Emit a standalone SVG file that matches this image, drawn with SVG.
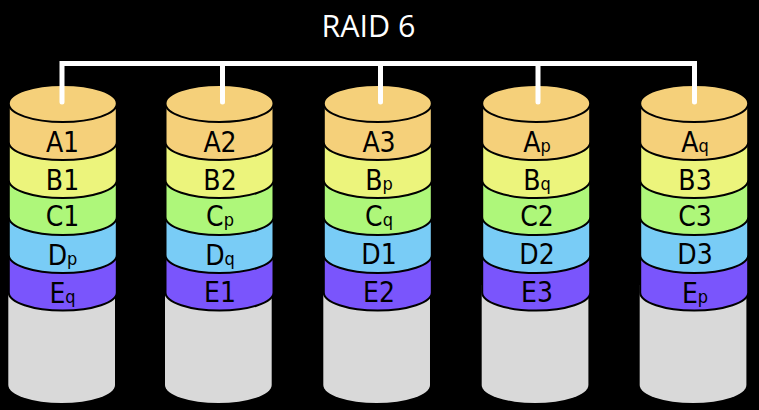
<svg xmlns="http://www.w3.org/2000/svg" width="759" height="410" viewBox="0 0 759 410">
<defs>
<style>
.s{stroke:#000;stroke-width:2}
.t{font-family:"DejaVu Sans",sans-serif;font-stretch:condensed;font-size:28px;fill:#000;text-anchor:middle}
.u{font-size:18px}
.bus{fill:none;stroke:#fff;stroke-width:5;stroke-linecap:round;stroke-linejoin:miter}
.a{fill:#f5d07a}.b{fill:#ecf47c}.c{fill:#aef77a}.d{fill:#79ccf6}.e{fill:#7a55fc}.g{fill:#d9d9d9}
</style>
<g id="cyl">
<path class="g" d="M0 285V385A53.350 18 0 0 0 106.700 385V285Z"/>
<path class="e s" d="M0.500 255V292.500A54 18 0 0 0 108.500 292.500V255Z"/>
<path class="d s" d="M0.500 217V255A54 18 0 0 0 108.500 255V217Z"/>
<path class="c s" d="M0.500 180V217A54 18 0 0 0 108.500 217V180Z"/>
<path class="b s" d="M0.500 142V180A54 18 0 0 0 108.500 180V142Z"/>
<path class="a s" d="M0.500 103.500V142A54 18 0 0 0 108.500 142V103.500Z"/>
<ellipse class="a s" cx="54.500" cy="103.500" rx="54" ry="18.500"/>
</g>
</defs>
<rect width="759" height="410" fill="#000"/>
<text x="368.500" y="36.700" font-family="'Open Sans',sans-serif" font-size="30.500" fill="#fff" text-anchor="middle">RAID 6</text>
<g id="disk1"><use href="#cyl" x="8.300"/>
<text class="t" x="62.500" y="151.500">A1</text><text class="t" x="62.500" y="189.500">B1</text><text class="t" x="62.500" y="226">C1</text><text class="t" x="62.500" y="264.500">D<tspan class="u">p</tspan></text><text class="t" x="62.500" y="303">E<tspan class="u">q</tspan></text></g>
<g id="disk2"><use href="#cyl" x="165"/>
<text class="t" x="220" y="151.500">A2</text><text class="t" x="220" y="189.500">B2</text><text class="t" x="220" y="226">C<tspan class="u">p</tspan></text><text class="t" x="220" y="264.500">D<tspan class="u">q</tspan></text><text class="t" x="220" y="302">E1</text></g>
<g id="disk3"><use href="#cyl" x="323.300"/>
<text class="t" x="379" y="151.500">A3</text><text class="t" x="379" y="189.500">B<tspan class="u">p</tspan></text><text class="t" x="379" y="226">C<tspan class="u">q</tspan></text><text class="t" x="379" y="263.500">D1</text><text class="t" x="379" y="302">E2</text></g>
<g id="disk4"><use href="#cyl" x="481.700"/>
<text class="t" x="537" y="151.500">A<tspan class="u">p</tspan></text><text class="t" x="537" y="189.500">B<tspan class="u">q</tspan></text><text class="t" x="537" y="226">C2</text><text class="t" x="537" y="263.500">D2</text><text class="t" x="537" y="302">E3</text></g>
<g id="disk5"><use href="#cyl" x="639.700"/>
<text class="t" x="695" y="151.500">A<tspan class="u">q</tspan></text><text class="t" x="695" y="189.500">B3</text><text class="t" x="695" y="226">C3</text><text class="t" x="695" y="263.500">D3</text><text class="t" x="695" y="303">E<tspan class="u">p</tspan></text></g>
<g id="connectors">
<path class="bus" d="M62 102V63.500H694.500V102M222.500 63.500V102M380.500 63.500V102M538 63.500V102"/>
</g>
</svg>
